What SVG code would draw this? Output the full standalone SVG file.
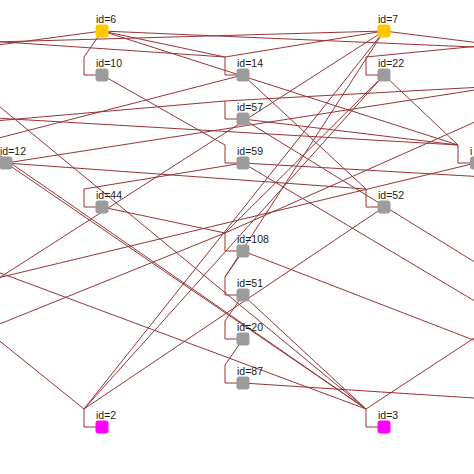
<svg xmlns="http://www.w3.org/2000/svg" width="474" height="474" viewBox="0 0 474 474">
<style>
.e{fill:none;stroke:#973434;stroke-width:1}
.n rect{stroke:none}
.g{fill:#9c9c9c}
.y{fill:#ffc800}
.m{fill:#ff00ff}
text{font-family:"Liberation Sans",Arial,sans-serif;font-size:10.5px;fill:#1a1a1a}
</style>
<rect width="474" height="474" fill="#ffffff"/>
<g id="connectors" class="e">
<path d="M102 31L-40 50M-40 39L225 57M102 31L84 57M102 31L225 57M102 31L458 145M102 31L520 49"/>
<path d="M384 31L-40 43M384 31L225 57M384 31L520 48M520 42L366 57M384 31L-40 303M384 31L84 409M384 31L225 277"/>
<path d="M384 75L84 409M384 75L458 145M384 75L225 233"/>
<path d="M243 75L-40 148M243 75L366 189M102 75L225 145"/>
<path d="M520 85L225 101M-40 124L225 101M-40 116L458 145M243 119L458 145M243 119L520 290"/>
<path d="M6 163L366 189M6 163L366 409M-40 128L366 409M-40 74L366 409M6 163L520 83"/>
<path d="M102 207L225 233M243 163L84 189M243 163L520 328M243 163L520 179"/>
<path d="M-40 258L366 409M-40 309L84 409M384 207L84 409M-40 340L225 233M520 102L225 233M476 163L-40 287"/>
<path d="M243 251L225 277M243 295L225 321M243 339L225 365M243 251L520 358M243 383L520 401M243 295L366 409M520 308L366 409"/>
<path d="M84 57V75H96M225 57V75H237M366 57V75H378M225 101V119H237M225 145V163H237M458 145V163H470M84 189V207H96M366 189V207H378M225 233V251H237M225 277V295H237M225 321V339H237M225 365V383H237M84 409V427H96M366 409V427H378"/>
</g>
<g id="n6" class="n"><rect class="y" x="95.5" y="24.5" width="13" height="13" rx="3"/><text x="96" y="23">id=6</text></g>
<g id="n7" class="n"><rect class="y" x="377.5" y="24.5" width="13" height="13" rx="3"/><text x="378" y="23">id=7</text></g>
<g id="n10" class="n"><rect class="g" x="95.5" y="68.5" width="13" height="13" rx="3"/><text x="96" y="67">id=10</text></g>
<g id="n14" class="n"><rect class="g" x="236.5" y="68.5" width="13" height="13" rx="3"/><text x="237" y="67">id=14</text></g>
<g id="n22" class="n"><rect class="g" x="377.5" y="68.5" width="13" height="13" rx="3"/><text x="378" y="67">id=22</text></g>
<g id="n57" class="n"><rect class="g" x="236.5" y="112.5" width="13" height="13" rx="3"/><text x="237" y="111">id=57</text></g>
<g id="n12" class="n"><rect class="g" x="-0.5" y="156.5" width="13" height="13" rx="3"/><text x="0" y="155">id=12</text></g>
<g id="n59" class="n"><rect class="g" x="236.5" y="156.5" width="13" height="13" rx="3"/><text x="237" y="155">id=59</text></g>
<g id="nR" class="n"><rect class="g" x="470" y="156.5" width="13" height="13" rx="3"/><text x="470" y="155">i</text></g>
<g id="n44" class="n"><rect class="g" x="95.5" y="200.5" width="13" height="13" rx="3"/><text x="96" y="199">id=44</text></g>
<g id="n52" class="n"><rect class="g" x="377.5" y="200.5" width="13" height="13" rx="3"/><text x="378" y="199">id=52</text></g>
<g id="n108" class="n"><rect class="g" x="236.5" y="244.5" width="13" height="13" rx="3"/><text x="237" y="243">id=108</text></g>
<g id="n51" class="n"><rect class="g" x="236.5" y="288.5" width="13" height="13" rx="3"/><text x="237" y="287">id=51</text></g>
<g id="n20" class="n"><rect class="g" x="236.5" y="332.5" width="13" height="13" rx="3"/><text x="237" y="331">id=20</text></g>
<g id="n87" class="n"><rect class="g" x="236.5" y="376.5" width="13" height="13" rx="3"/><text x="237" y="375">id=87</text></g>
<g id="n2" class="n"><rect class="m" x="95.5" y="420.5" width="13" height="13" rx="3"/><text x="96" y="419">id=2</text></g>
<g id="n3" class="n"><rect class="m" x="377.5" y="420.5" width="13" height="13" rx="3"/><text x="378" y="419">id=3</text></g>
</svg>
